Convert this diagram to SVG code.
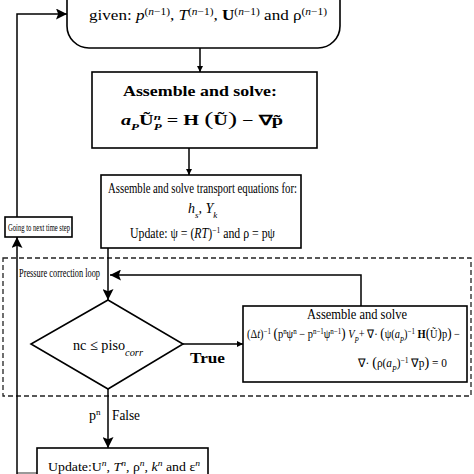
<svg xmlns="http://www.w3.org/2000/svg" width="474" height="474" viewBox="0 0 474 474">
<defs>
<style>
.box{fill:#fff;stroke:#000;stroke-width:1.6}
.ln{fill:none;stroke:#000;stroke-width:1.5}
.t{font-family:"Liberation Serif","Times New Roman",serif;fill:#000}
.b{font-weight:bold}
.i{font-style:italic}
</style>
<marker id="as" viewBox="0 0 10 10" refX="10" refY="5" markerWidth="6" markerHeight="6" markerUnits="userSpaceOnUse" orient="auto"><path d="M0,0 L10,5 L0,10 z" fill="#000"/></marker>
<marker id="al" viewBox="0 0 10 10" refX="10" refY="5" markerWidth="14" markerHeight="11" markerUnits="userSpaceOnUse" orient="auto"><path d="M0,0 L10,5 L0,10 L2,5 z" fill="#000"/></marker>
</defs>
<rect width="474" height="474" fill="#fff"/>

<g id="loop-region">
<rect x="3" y="258" width="468" height="138" fill="none" stroke="#222" stroke-width="1.3" stroke-dasharray="5 3"/>
<text class="t" x="19" y="277" font-size="13" textLength="81" lengthAdjust="spacingAndGlyphs">Pressure correction loop</text>
</g>

<g id="connectors">
<line class="ln" x1="200" y1="48" x2="200" y2="72" marker-end="url(#as)"/>
<line class="ln" x1="189" y1="148" x2="189" y2="175" marker-end="url(#as)"/>
<line class="ln" x1="108" y1="248" x2="108" y2="300" marker-end="url(#al)"/>
<polyline class="ln" points="361,306 361,275 110,275" marker-end="url(#al)"/>
<line class="ln" x1="183" y1="344" x2="243" y2="344" marker-end="url(#as)"/>
<line class="ln" x1="108" y1="389" x2="108" y2="448" marker-end="url(#al)"/>
<line x1="37" y1="473" x2="17" y2="473" stroke="#999" stroke-width="2"/>
<line class="ln" x1="17" y1="474" x2="17" y2="237" marker-end="url(#al)"/>
<polyline class="ln" points="17,217 17,14 67,14" marker-end="url(#al)"/>
<text class="t b" x="190" y="363" font-size="14" textLength="35" lengthAdjust="spacingAndGlyphs">True</text>
<text class="t" x="89" y="420" font-size="14">p<tspan font-size="9" baseline-shift="super">n</tspan></text>
<text class="t" x="112" y="420" font-size="15" textLength="28" lengthAdjust="spacingAndGlyphs">False</text>
</g>

<g id="init">
<rect class="box" x="67" y="-30" width="273" height="78" rx="22" stroke-width="2"/>
<text class="t" x="89" y="20" font-size="15" textLength="238" lengthAdjust="spacingAndGlyphs">given: <tspan class="i">p</tspan><tspan font-size="10" baseline-shift="super">(<tspan class="i">n</tspan>−1)</tspan>, <tspan class="i">T</tspan><tspan font-size="10" baseline-shift="super">(<tspan class="i">n</tspan>−1)</tspan>, <tspan class="b">U</tspan><tspan font-size="10" baseline-shift="super">(<tspan class="i">n</tspan>−1)</tspan> and ρ<tspan font-size="10" baseline-shift="super">(<tspan class="i">n</tspan>−1)</tspan></text>
</g>

<g id="momentum">
<rect class="box" x="92" y="72" width="225" height="76"/>
<text class="t b" x="123" y="96" font-size="14" textLength="154" lengthAdjust="spacingAndGlyphs">Assemble and solve:</text>
<text class="t b" x="121" y="125" font-size="14" textLength="162" lengthAdjust="spacingAndGlyphs"><tspan class="i">a</tspan><tspan class="i" font-size="9" baseline-shift="sub">P</tspan>Ũ<tspan class="i" font-size="9" baseline-shift="super">n</tspan><tspan class="i" font-size="9" baseline-shift="sub" dx="-5">P</tspan> = H <tspan font-size="19" font-weight="normal">(</tspan>Ũ<tspan font-size="19" font-weight="normal">)</tspan> − ∇p̃</text>
</g>

<g id="transport">
<rect class="box" x="101" y="175" width="200" height="73"/>
<text class="t" x="108" y="193" font-size="14" textLength="189" lengthAdjust="spacingAndGlyphs">Assemble and solve transport equations for:</text>
<text class="t i" x="188" y="213" font-size="14">h<tspan font-size="9" baseline-shift="sub">s</tspan>, Y<tspan font-size="9" baseline-shift="sub">k</tspan></text>
<text class="t" x="130" y="238" font-size="14" textLength="145" lengthAdjust="spacingAndGlyphs">Update: ψ = (<tspan class="i">RT</tspan>)<tspan font-size="9" baseline-shift="super">−1</tspan> and ρ = pψ</text>
</g>

<g id="next-step">
<rect class="box" x="5" y="217" width="67" height="20" stroke-width="1.3"/>
<text class="t" x="8" y="231" font-size="11" textLength="62" lengthAdjust="spacingAndGlyphs">Going to next time step</text>
</g>

<g id="decision">
<polygon class="box" points="108,300 183,344 108,389 31,344" stroke-width="1.8"/>
<text class="t" x="73" y="350" font-size="15" textLength="70" lengthAdjust="spacingAndGlyphs">nc ≤ piso<tspan class="i" font-size="11" baseline-shift="sub">corr</tspan></text>
</g>

<g id="pressure">
<rect class="box" x="243" y="306" width="224" height="76"/>
<text class="t" x="307" y="319" font-size="14" textLength="100" lengthAdjust="spacingAndGlyphs">Assemble and solve</text>
<text class="t" x="247" y="338" font-size="12" textLength="213" lengthAdjust="spacingAndGlyphs">(Δ<tspan class="i">t</tspan>)<tspan font-size="8" baseline-shift="super">−1</tspan> <tspan font-size="15">(</tspan>p<tspan font-size="8" baseline-shift="super">n</tspan>ψ<tspan font-size="8" baseline-shift="super">n</tspan> − p<tspan font-size="8" baseline-shift="super">n−1</tspan>ψ<tspan font-size="8" baseline-shift="super">n−1</tspan><tspan font-size="15">)</tspan> <tspan class="i">V<tspan font-size="8" baseline-shift="sub">P</tspan></tspan>+ ∇· <tspan font-size="15">(</tspan>ψ(<tspan class="i">a<tspan font-size="8" baseline-shift="sub">P</tspan></tspan>)<tspan font-size="8" baseline-shift="super">−1</tspan> <tspan class="b">H</tspan><tspan font-size="15">(</tspan>Ũ<tspan font-size="15">)</tspan>p<tspan font-size="15">)</tspan> −</text>
<text class="t" x="358" y="367" font-size="12" textLength="89" lengthAdjust="spacingAndGlyphs">∇· <tspan font-size="15">(</tspan>ρ(<tspan class="i">a<tspan font-size="8" baseline-shift="sub">P</tspan></tspan>)<tspan font-size="8" baseline-shift="super">−1</tspan> ∇p<tspan font-size="15">)</tspan> = 0</text>
</g>

<g id="update">
<rect class="box" x="37" y="448" width="171" height="40"/>
<text class="t" x="48" y="471" font-size="13" textLength="152" lengthAdjust="spacingAndGlyphs">Update:U<tspan class="i" font-size="9" baseline-shift="super">n</tspan>, <tspan class="i">T</tspan><tspan class="i" font-size="9" baseline-shift="super">n</tspan>, ρ<tspan class="i" font-size="9" baseline-shift="super">n</tspan>, <tspan class="i">k</tspan><tspan class="i" font-size="9" baseline-shift="super">n</tspan> and ε<tspan class="i" font-size="9" baseline-shift="super">n</tspan></text>
</g>
</svg>
